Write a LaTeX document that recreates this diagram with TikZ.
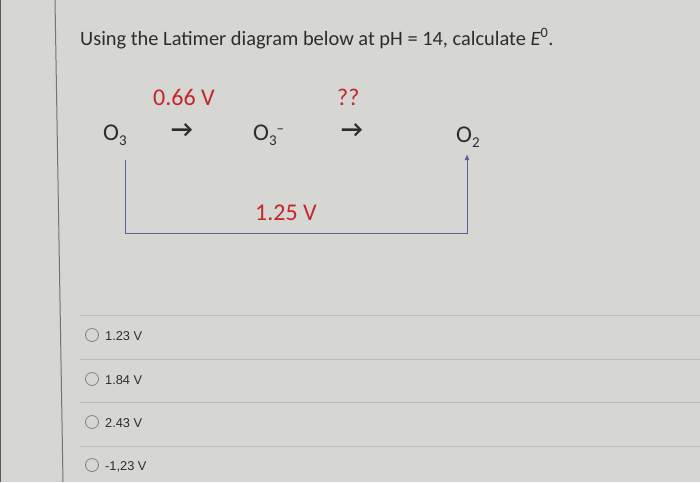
\documentclass[tikz,border=0pt]{standalone}
\usepackage{fontspec}
\setmainfont{Carlito}
\newfontfamily\optfont{Liberation Sans}
\usetikzlibrary{positioning,arrows.meta}

\definecolor{screen}{RGB}{214,214,211}
\definecolor{ink}{RGB}{45,45,45}
\definecolor{answer}{RGB}{196,38,44}
\definecolor{bracketblue}{RGB}{88,98,158}
\definecolor{rule}{RGB}{188,188,185}

\newcommand{\lowidx}[1]{\raisebox{-5pt}{\fontsize{15}{18}\selectfont#1}}
\newcommand{\highidx}[1]{\raisebox{7pt}{\fontsize{15}{18}\selectfont#1}}

\begin{document}
\begin{tikzpicture}[x=1pt,y=-1pt,
    txt/.style={anchor=base west,inner sep=0pt,text=ink},
    chem/.style={txt,font=\fontsize{24}{28}\selectfont},
    volt/.style={chem,text=answer},
    choice/.style={txt,font=\optfont\fontsize{12.8}{15}\selectfont},
    radio/.style={circle,draw=ink!60,line width=.8pt,minimum size=13pt,inner sep=0pt},
    sep/.style={rule,line width=1pt},
    bracket/.style={bracketblue,line width=1pt}]
  % screen
  \fill[screen] (0,0) rectangle (700,482);
  \useasboundingbox (0,0) rectangle (700,482);
  \draw[gray!70!black,line width=1.5pt] (0.5,0) -- (0.5,482);
  \draw[gray!90!black,line width=1pt] (55,0) -- (63,482);

  % question
  \node[txt,font=\fontsize{20.4}{24}\selectfont] (question) at (80,45)
    {Using the Latimer diagram below at pH = 14, calculate \textit{E}\textsuperscript{0}.};

  % latimer diagram
  \node[chem] (o3) at (103,140) {O\lowidx{3}};
  \node[chem,font=\bfseries\fontsize{24}{28}\selectfont] (arrA) at (171,137) {→};
  \node[chem] (o3m) at (253,140) {O\lowidx{3}\highidx{--}};
  \node[chem,font=\bfseries\fontsize{24}{28}\selectfont] (arrB) at (341,137) {→};
  \node[chem] (o2) at (456,142) {O\lowidx{2}};
  \node[volt] (vA) at (153,105) {0.66 V};
  \node[volt] (vB) at (337,105) {??};
  \node[volt] (vC) at (255,220) {1.25 V};

  \coordinate (o3foot) at (125,160);
  \coordinate (o2foot) at (467,154);
  \coordinate (floor) at (0,233);
  \draw[bracket,-{Latex[length=6pt,width=5pt]}] (o3foot) -- (o3foot |- floor) -| (o2foot);

  % answer choices
  \foreach \y in {315,359,402,446}
    \draw[sep] (80,\y) -- (700,\y);
  \foreach \y/\v [count=\i] in {340/1.23 V,384/1.84 V,427/2.43 V,470/-1{,}23 V}{
    \node[radio] (radio\i) at (92,\y-5) {};
    \node[choice] (choice\i) at (105,\y) {\v};
  }
\end{tikzpicture}
\end{document}
